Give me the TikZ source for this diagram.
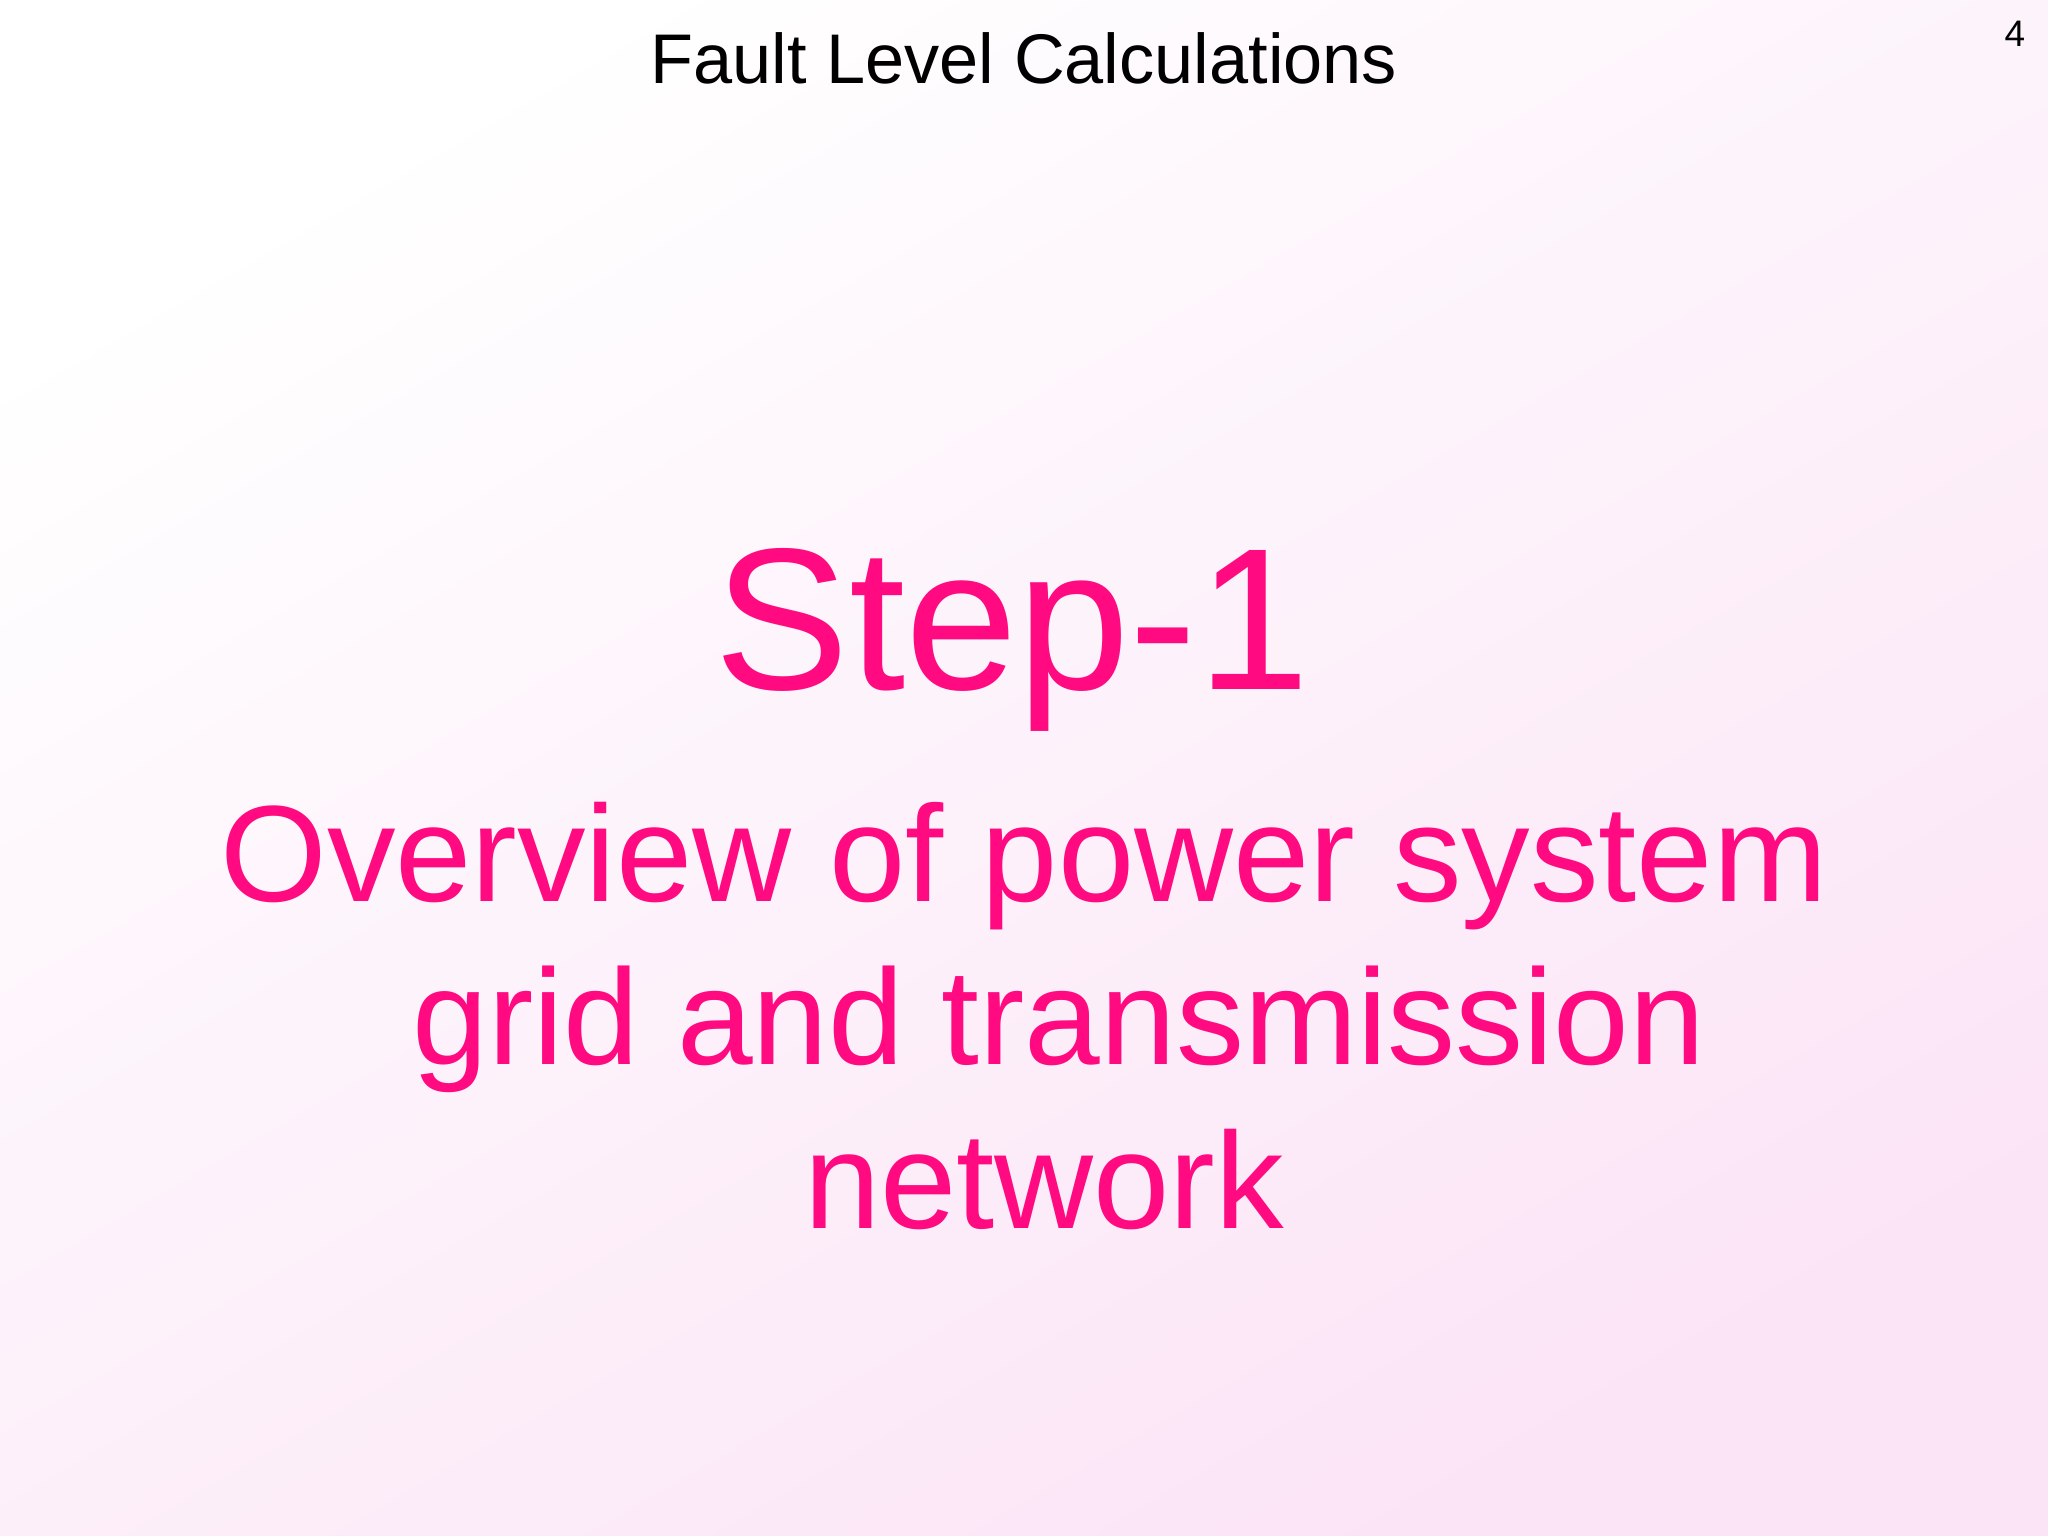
\documentclass[tikz,border=0pt]{standalone}
\usepackage{fontspec}
\setmainfont{Liberation Sans}
\definecolor{hot}{HTML}{FF0A80}
\definecolor{bgpink}{HTML}{FBE4F6}
\begin{document}
\begin{tikzpicture}
\useasboundingbox (0,0) rectangle (20.48,-15.36);
\shade[left color=white,right color=bgpink,shading angle=30] (0,0) rectangle (20.48,-15.36);
\tikzset{hdr/.style={anchor=base,inner sep=0pt,text=black},
 big/.style={anchor=base,inner sep=0pt,text=hot}}
\node[hdr,font=\fontsize{20pt}{24pt}\selectfont] (title) at (10.24,-0.84) {Fault Level Calculations};
\node[hdr,font=\fontsize{10.5pt}{12pt}\selectfont] (num) at (20.15,-0.47) {4};
\node[big,font=\fontsize{57.5pt}{70pt}\selectfont] (step) at (10.12,-6.90) {Step-1};
\node[big,font=\fontsize{39pt}{46pt}\selectfont] (l1) at (10.24,-9.01) {Overview of power system};
\node[big,font=\fontsize{38.7pt}{46pt}\selectfont] (l2) at (10.59,-10.64) {grid and transmission};
\node[big,font=\fontsize{39pt}{46pt}\selectfont] (l3) at (10.44,-12.28) {network};
\end{tikzpicture}
\end{document}
